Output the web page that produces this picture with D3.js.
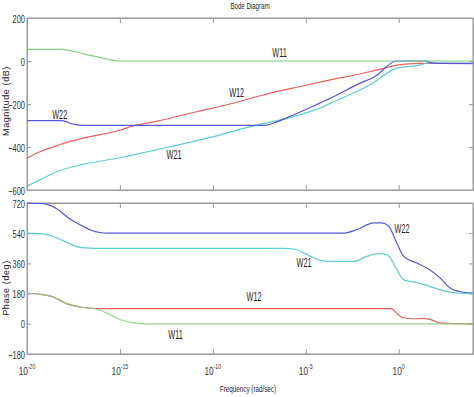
<!DOCTYPE html>
<html><head><meta charset="utf-8">
<script src="https://cdn.jsdelivr.net/npm/d3@7"></script>
<style>
html,body{margin:0;padding:0;background:#fff;}
svg{display:block;font-family:"Liberation Sans",Arial,sans-serif;}
</style></head>
<body>
<svg id="chart" width="474" height="397"></svg>
<script>
// ---------- data (frequency given as log10 exponent) ----------
const freqDomainExp = [-20, 4];
const magTicks = [200, 0, -200, -400, -600];
const phaseTicks = [720, 540, 360, 180, 0, -180];
const freqTickExp = [-20, -15, -10, -5, 0];

const w11MagF = [-20, -18.1, -17.9, -16.8, -15.65, -15.1, 4];
const w11Mag  = [54, 54, 52, 30, 8, 0, 0];

const w12MagF = [-20, -19.3, -18.6, -18.13, -16.79, -15.0, -14.46, -13.11, -10.87, -9.08, -7.28, -5.49, -3.69, -1.92, -0.75, -0.12, 1.13, 4];
const w12Mag  = [-452, -422, -400, -386, -355, -322, -306, -282, -236, -200, -158, -122, -88, -57, -33, -19, -11, -11];

const w21MagF = [-20, -19.3, -18.4, -17.15, -15.0, -14.46, -12.3, -9.97, -7.82, -6.39, -4.95, -4.25, -3.69, -1.56, -0.12, 1.13, 1.67, 2.2, 4];
const w21Mag  = [-582, -553, -515, -484, -450, -440, -399, -352, -302, -274, -240, -220, -197, -112, -34, -19, -8, -11, -11];

const w22MagF = [-20, -18.1, -17.6, -17.0, -7.19, -6.56, -5.67, -4.25, -3.69, -2.1, -1.29, -0.12, 1.45, 1.85, 4];
const w22Mag  = [-277, -277, -292, -299, -299, -283, -251, -196, -174, -104, -73, 0, 0, -10, -12];

const w11PhF = [-20, -19.3, -18.59, -17.87, -17.15, -16.25, -15.63, -15.0, -14.28, -13.56, 4];
const w11Ph  = [182, 176, 160, 120, 100, 88, 60, 26, 6, 0, 0];

const w12PhF = [-20, -19.3, -18.59, -17.87, -17.15, -16.25, -15.5, -0.4, -0.04, 0.23, 0.77, 1.31, 1.85, 2.2, 3.0, 4];
const w12Ph  = [182, 176, 160, 120, 100, 90, 90, 90, 56, 36, 30, 32, 20, 6, 1, 0];

const w21PhF = [-20, -19.12, -18.59, -17.87, -17.33, -16.88, -16.3, -6.2, -5.65, -4.74, -4.21, -3.67, -2.42, -1.7, -1.08, -0.63, -0.09, 0.27, 0.98, 1.7, 2.6, 3.3, 4];
const w21Ph  = [540, 536, 520, 486, 460, 452, 450, 450, 446, 402, 378, 372, 372, 402, 418, 412, 322, 262, 246, 222, 192, 182, 180];

const w22PhF = [-20, -19.12, -18.4, -17.7, -16.97, -16.52, -16.08, -15.7, -3.0, -2.24, -1.34, -0.9, -0.54, -0.1, 0.27, 0.98, 1.52, 2.24, 2.78, 3.49, 4];
const w22Ph  = [720, 716, 686, 626, 580, 556, 544, 540, 540, 562, 602, 602, 582, 482, 402, 362, 332, 272, 212, 188, 184];

const seriesNames = ["W11", "W12", "W21", "W22"];
const seriesColors = {W11: "#7ccf7c", W12: "#ee5f5f", W21: "#5ccfcf", W22: "#5656dc"};

const magLabels = [
  {name: "W11", f: -6.41, v: 18},
  {name: "W12", f: -8.72, v: -169},
  {name: "W22", f: -18.24, v: -270},
  {name: "W21", f: -12.09, v: -456}
];
const phaseLabels = [
  {name: "W22", f: 0.18, v: 541},
  {name: "W21", f: -5.09, v: 336},
  {name: "W12", f: -7.78, v: 136},
  {name: "W11", f: -12.01, v: -88}
];

// ---------- layout ----------
const L = 27, R = 473;
const magTop = 18, magBot = 190;
const phTop = 203, phBot = 354;

const svg = d3.select("#chart");
const x = d3.scaleLog().domain(freqDomainExp.map(e => Math.pow(10, e))).range([L, R]);
const yMag = d3.scaleLinear().domain([-600, 200]).range([magBot, magTop]);
const yPh = d3.scaleLinear().domain([-180, 720]).range([phBot, phTop]);

const frameColor = "#9a9a9a";
const textColor = "#333";
const SX = 0.68;

function drawPanel(y, top, bot, ticks) {
  const g = svg.append("g");
  const tickVals = freqTickExp.map(e => Math.pow(10, e));
  g.append("g").attr("transform", `translate(0,${bot})`)
    .call(d3.axisBottom(x).tickValues(tickVals).tickSizeInner(-5).tickSizeOuter(0).tickFormat(""));
  g.append("g").attr("transform", `translate(0,${top})`)
    .call(d3.axisTop(x).tickValues(tickVals).tickSizeInner(-5).tickSizeOuter(0).tickFormat(""));
  const left = g.append("g").attr("transform", `translate(${L},0)`)
    .call(d3.axisLeft(y).tickValues(ticks).tickSizeInner(-4).tickSizeOuter(0).tickFormat(d3.format("d")));
  left.selectAll("text")
    .attr("x", null).attr("dy", null)
    .attr("text-anchor", "end")
    .attr("transform", `translate(-2,4) scale(${SX},1)`)
    .attr("font-size", 11).attr("fill", textColor)
    .attr("font-family", '"Liberation Sans",Arial,sans-serif');
  g.append("g").attr("transform", `translate(${R},0)`)
    .call(d3.axisRight(y).tickValues(ticks).tickSizeInner(-4).tickSizeOuter(0).tickFormat(""));
  g.selectAll(".domain").attr("stroke", frameColor);
  g.selectAll(".tick line").attr("stroke", frameColor);
  g.append("rect").attr("x", L).attr("y", top).attr("width", R - L).attr("height", bot - top)
    .attr("fill", "none").attr("stroke", frameColor).attr("stroke-width", 1);
  return g;
}

drawPanel(yMag, magTop, magBot, magTicks);
drawPanel(yPh, phTop, phBot, phaseTicks);

// x tick labels (10^n) under phase panel
const xl = svg.append("g").attr("transform", `translate(0,375)`);
freqTickExp.forEach(e => {
  const t = xl.append("text")
    .attr("transform", `translate(${x(Math.pow(10, e))},0) scale(0.75,1)`)
    .attr("text-anchor", "middle").attr("font-size", 11).attr("fill", textColor);
  t.append("tspan").text("10");
  t.append("tspan").attr("font-size", 7).attr("dy", -6).text(String(e));
});

// lines
const line = (yScale) => d3.line()
  .x(d => x(Math.pow(10, d[0])))
  .y(d => yScale(d[1]))
  .curve(d3.curveMonotoneX);

function zip(a, b) { return a.map((v, i) => [v, b[i]]); }

const magData = {W11: zip(w11MagF, w11Mag), W12: zip(w12MagF, w12Mag), W21: zip(w21MagF, w21Mag), W22: zip(w22MagF, w22Mag)};
const phData = {W11: zip(w11PhF, w11Ph), W12: zip(w12PhF, w12Ph), W21: zip(w21PhF, w21Ph), W22: zip(w22PhF, w22Ph)};

const magOrder = ["W12", "W21", "W22", "W11"];
const phOrder = ["W22", "W21", "W12", "W11"];

svg.append("g").selectAll("path").data(magOrder).join("path")
  .attr("d", n => line(yMag)(magData[n]))
  .attr("fill", "none").attr("stroke", n => seriesColors[n]).attr("stroke-width", 1.2);

svg.append("g").selectAll("path").data(phOrder).join("path")
  .attr("d", n => line(yPh)(phData[n]))
  .attr("fill", "none").attr("stroke", n => seriesColors[n]).attr("stroke-width", 1.2)
  .attr("stroke-opacity", n => n === "W11" ? 0.85 : 1);

// series annotations
function annot(list, yScale) {
  svg.append("g").selectAll("text").data(list).join("text")
    .attr("transform", d => `translate(${x(Math.pow(10, d.f))},${yScale(d.v)}) scale(0.56,1)`)
    .attr("text-anchor", "middle").attr("font-size", 13).attr("fill", "#222")
    .text(d => d.name);
}
annot(magLabels, yMag);
annot(phaseLabels, yPh);

// titles
svg.append("text").attr("transform", "translate(250,9) scale(0.72,1)")
  .attr("text-anchor", "middle").attr("font-size", 8.5).attr("fill", "#222").text("Bode Diagram");
svg.append("text").attr("transform", "translate(248,392) scale(0.74,1)")
  .attr("text-anchor", "middle").attr("font-size", 8.5).attr("fill", "#222").text("Frequency  (rad/sec)");
svg.append("text").attr("transform", "translate(9,101) rotate(-90)")
  .attr("text-anchor", "middle").attr("font-size", 9).attr("letter-spacing", 0.6).attr("fill", "#222").text("Magnitude (dB)");
svg.append("text").attr("transform", "translate(9,288) rotate(-90)")
  .attr("text-anchor", "middle").attr("font-size", 9).attr("letter-spacing", 0.6).attr("fill", "#222").text("Phase (deg)");
</script>
</body></html>
